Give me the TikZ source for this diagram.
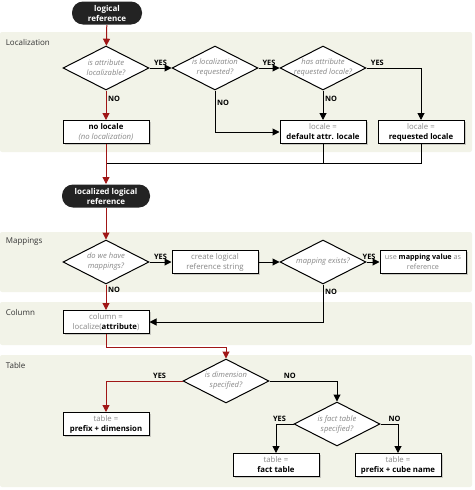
\documentclass[tikz,border=0pt]{standalone}
\usepackage{fontspec}
\setmainfont{Open Sans}
\usetikzlibrary{shapes.geometric,shadows,arrows.meta,calc}
\definecolor{bandfill}{RGB}{242,243,232}
\definecolor{flowred}{RGB}{160,22,22}
\definecolor{pillfill}{RGB}{35,35,35}
\definecolor{softgray}{RGB}{135,135,135}
\newcommand{\keyword}[1]{{\color{black}\bfseries #1}}
\begin{document}
\begin{tikzpicture}[x=1pt,y=-1pt,>={Triangle[length=7pt,width=7pt]},line width=1pt,
    font=\fontsize{7.8}{10}\selectfont,
    pill/.style={rectangle,rounded corners=11pt,fill=pillfill,text=white,font=\fontsize{8}{10}\selectfont\bfseries,align=center,minimum height=23pt,inner sep=1pt},
    decision/.style={diamond,aspect=2,draw,fill=white,text=softgray,font=\fontsize{7.6}{10}\selectfont\itshape,align=center,minimum width=86pt,minimum height=44pt,inner sep=-3pt},
    stepbox/.style={rectangle,draw,fill=white,text=softgray,align=center,minimum width=86pt,minimum height=23pt,inner sep=1pt,drop shadow={opacity=0.35,shadow xshift=1.5pt,shadow yshift=-1.5pt}},
    band/.style={fill=bandfill,rounded corners=2pt},
    bandlabel/.style={anchor=west,text=black!80,font=\fontsize{8}{10}\selectfont},
    answer/.style={font=\fontsize{7.4}{8}\selectfont\bfseries,inner sep=1.5pt},
    mainflow/.style={flowred}]
    \useasboundingbox (0,0) rectangle (474,490);
    % swim lanes
    \fill[band] (0,32) rectangle (472,152);
    \fill[band] (0,232) rectangle (472,292);
    \fill[band] (0,302) rectangle (472,345);
    \fill[band] (0,355) rectangle (472,487);
    \node[bandlabel] (lanea) at (2,42) {Localization};
    \node[bandlabel] (laneb) at (2,242) {Mappings};
    \node[bandlabel] (lanec) at (2,312) {Column};
    \node[bandlabel] (laned) at (2,365) {Table};
    % localization
    \node[pill,minimum width=70pt] (start) at (107,13) {logical\\reference};
    \node[decision] (isloc) at (106,68) {is attribute\\localizable?};
    \node[decision] (isreq) at (215,68) {is localization\\requested?};
    \node[decision] (hasreq) at (323,68) {has attribute\\requested locale?};
    \node[stepbox] (noloc) at (106,132) {\keyword{no locale}\\\textit{(no localization)}};
    \node[stepbox] (defloc) at (323,132) {locale =\\\keyword{default attr. locale}};
    \node[stepbox] (reqloc) at (421,132) {locale =\\\keyword{requested locale}};
    \coordinate (join) at (106,163);
    \node[pill,minimum width=88pt] (locref) at (106,196) {localized logical\\reference};
    % mappings
    \node[decision] (hasmap) at (106,262) {do we have\\mappings?};
    \node[stepbox] (mkstr) at (215,262) {create logical\\reference string};
    \node[decision] (mapex) at (323,262) {mapping exists?};
    \node[stepbox,font=\fontsize{7.2}{10}\selectfont] (usemap) at (423,262) {use \keyword{mapping value} as\\reference};
    % column
    \node[stepbox] (column) at (106,322) {column =\\localize(\keyword{attribute})};
    \coordinate (bend) at (106,347);
    % table
    \node[decision] (isdim) at (226,381) {is dimension\\specified?};
    \node[stepbox] (dimtab) at (106,424) {table =\\\keyword{prefix + dimension}};
    \node[decision] (isfact) at (337,424) {is fact table\\specified?};
    \node[stepbox] (facttab) at (276,465) {table =\\\keyword{fact table}};
    \node[stepbox] (cubetab) at (398,465) {table =\\\keyword{prefix + cube name}};
    % arrows
    \draw[->] (isloc.east) -- node[answer,above]{YES} (isreq.west);
    \draw[->] (isreq.east) -- node[answer,above]{YES} (hasreq.west);
    \draw[->] (hasreq.east) -| node[answer,pos=0.1,above]{YES} (reqloc.north);
    \draw[->] (isreq.south) |- node[answer,pos=0.15,right]{NO} (defloc.west);
    \draw[->] (hasreq.south) -- node[answer,pos=0.3,right]{NO} (defloc.north);
    \draw (reqloc.south) |- (join);
    \draw (defloc.south) -- (defloc.south |- join);
    \draw[->] (hasmap.east) -- node[answer,above]{YES} (mkstr.west);
    \draw[->] (mkstr.east) -- (mapex.west);
    \draw[->] (mapex.east) -- node[answer,above,pos=0.2]{YES} (usemap.west);
    \draw[->] (mapex.south) |- node[answer,pos=0.1,right]{NO} (column.east);
    \draw[->] (isdim.east) -| node[answer,pos=0.15,above]{NO} (isfact.north);
    \draw[->] (isfact.west) -| node[answer,pos=0.4,above]{YES} (facttab.north);
    \draw[->] (isfact.east) -| node[answer,pos=0.4,above]{NO} (cubetab.north);
    % main path
    \draw[->,mainflow] (start) -- (isloc);
    \draw[->,mainflow] (isloc) -- node[answer,text=black,pos=0.3,right]{NO} (noloc);
    \draw[->,mainflow] (noloc) -- (locref);
    \draw[->,mainflow] (locref) -- (hasmap);
    \draw[->,mainflow] (hasmap) -- node[answer,text=black,pos=0.2,right]{NO} (column);
    \draw[->,mainflow] (column.south) -- (bend) -| (isdim.north);
    \draw[->,mainflow] (isdim.west) -| node[answer,text=black,pos=0.15,above]{YES} (dimtab.north);
\end{tikzpicture}
\end{document}
